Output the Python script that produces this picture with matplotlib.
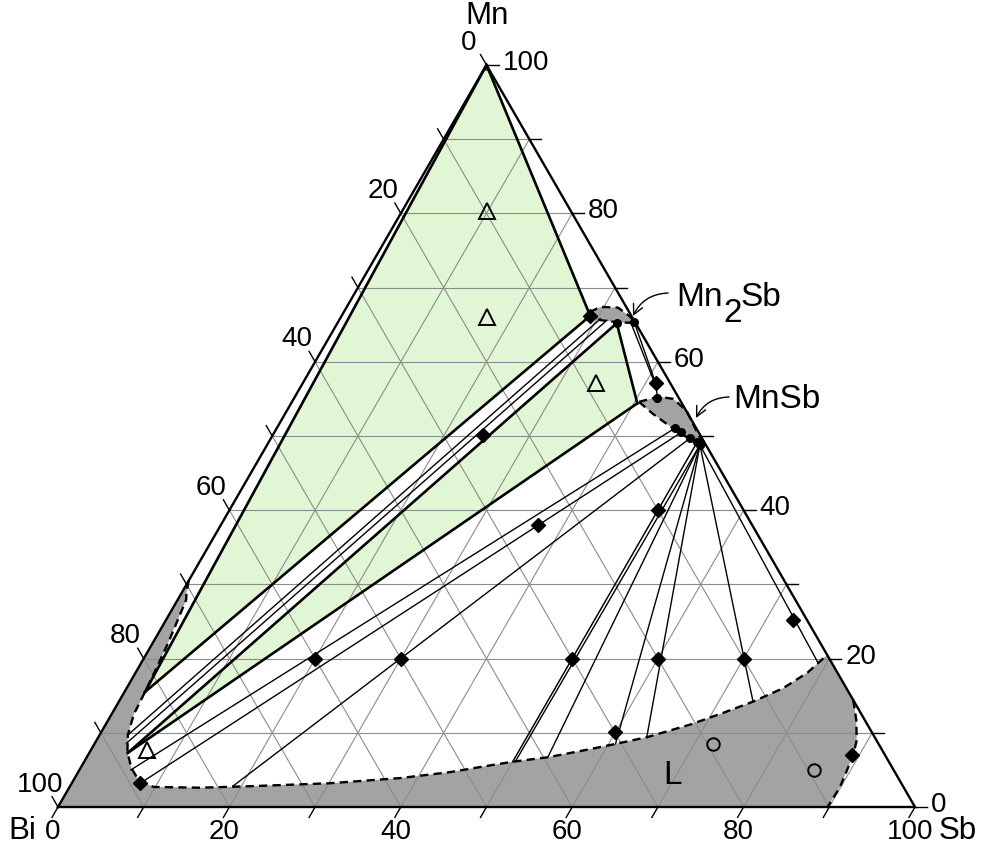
import numpy as np
import matplotlib
matplotlib.use('Agg')
import matplotlib.pyplot as plt
from matplotlib.patches import Polygon, FancyArrowPatch

plt.rcParams['font.family'] = ['Liberation Sans', 'DejaVu Sans']

# ---------------- data: compositions as (Sb %, Mn %), Bi = rest ----------------
tick_values = list(range(0, 101, 10))
label_values = [0, 20, 40, 60, 80, 100]

apex = (0.0, 100.0)
mn2sb_left = (29.0, 66.2)          # Mn2Sb corner (diamond)
mn2sb_mid = (32.6, 65.2)           # Mn2Sb dot
mn2sb_right = (34.6, 65.3)         # Mn2Sb dot on Mn-Sb edge
mnsb_corner = (40.4, 54.4)
liq_a = (2.4, 15.5)
liq_b = (4.5, 7.3)

mn2sb_upper = [(28.7, 66.7), (29.6, 67.4), (31.7, 67.3), (33.7, 66.1), (34.75, 65.25)]
mn2sb_lower = [(28.7, 66.7), (29.35, 65.8), (31.25, 65.5), (32.9, 65.3), (34.75, 65.25)]

mnsb_upper = [(40.5, 54.6), (42.4, 55.3), (44.3, 55.0), (46.65, 53.4), (48.2, 51.7), (50.1, 49.7), (50.9, 49.1)]
mnsb_lower = [(40.5, 54.6), (42.9, 53.0), (46.1, 51.1), (48.9, 49.6), (50.9, 49.1)]

liquidus = [(0, 30.5), (0.5, 29.0), (1.0, 27.9), (1.4, 25.0), (1.8, 22.1), (2.1, 19.0), (2.4, 15.5),
            (2.6, 12.5), (3.3, 9.7), (4.4, 7.4), (5.9, 5.3), (7.6, 3.6), (9.8, 2.7), (15.3, 2.6),
            (21.0, 2.8), (30.1, 3.2), (38.0, 3.9), (43.4, 4.7), (47.1, 5.5), (50.0, 6.1), (53.8, 6.7),
            (58.2, 7.8), (60.8, 8.5), (64.0, 9.4), (68.2, 11.1), (71.3, 12.7), (74.0, 14.2),
            (76.6, 16.0), (78.4, 18.1), (79.0, 19.4), (79.5, 20.5)]
sb_side = [(85.6, 14.4), (87.3, 11.7), (88.7, 9.0), (89.3, 7.0), (89.9, 2.7), (89.8, 0.0)]
mn_tip = [(0, 100), (0, 99.2), (0.8, 99.2)]

thick_lines = [(apex, mn2sb_left), (apex, liq_a), (mn2sb_left, liq_a),
               (mn2sb_mid, liq_b), (mn2sb_mid, mnsb_corner), (mnsb_corner, liq_b)]
thin_lines = [((30.4, 65.8), (3.3, 9.7)), ((31.25, 65.6), (3.7, 8.6)),
              ((34.6, 65.3), (41.2, 57.1)), ((34.1, 65.4), (41.0, 57.2)), ((41.2, 57.1), (42.4, 55.1)),
              ((46.5, 51.1), (6.0, 5.0)), ((47.5, 50.5), (8.0, 3.2)), ((48.9, 49.7), (19.0, 2.8)),
              ((50.0, 49.2), (50.0, 6.1)), ((50.5, 48.8), (50.3, 6.1)), ((50.5, 48.8), (53.8, 6.7)),
              ((50.5, 48.8), (60.8, 8.5)), ((50.5, 48.8), (64.0, 9.4)), ((50.5, 48.8), (74.0, 14.2)),
              ((50.5, 48.8), (79.0, 19.4))]

diamonds = [(29.0, 66.2), (41.2, 57.1), (24.5, 50.1), (37.0, 38.0), (50.0, 40.0), (73.2, 25.2),
            (20.0, 20.0), (30.0, 20.0), (50.0, 20.0), (60.0, 20.0), (70.0, 20.0), (60.0, 10.1),
            (89.1, 7.0), (8.0, 3.2)]
triangles = [(9.9, 80.3), (17.0, 66.0), (34.2, 57.1), (6.5, 7.7)]
circles = [(72.2, 8.5), (85.7, 5.0)]
dots = [(32.6, 65.2), (34.6, 65.3), (42.4, 55.1), (46.5, 51.1), (47.5, 50.5), (48.9, 49.7),
        (50.0, 49.2), (50.5, 48.8)]

# ---------------- geometry ----------------
S3 = np.sqrt(3) / 2
PX = 1 / 8.57  # data units per pixel


def P(sb, mn):
    return sb + mn / 2.0, mn * S3


def PP(pts):
    a = np.array(pts, float)
    return a[:, 0] + a[:, 1] / 2.0, a[:, 1] * S3


def pxd(x, y):
    return (x - 58) * PX, (807 - y) / 8.568


fig = plt.figure(figsize=(9.81, 8.46), dpi=100)
ax = fig.add_axes([0, 0, 1, 1])
ax.set_xlim(-58 * PX, (981 - 58) * PX)
ax.set_ylim((807 - 846) / 8.568, 807 / 8.568)
ax.axis('off')

GREEN = '#e1f6d5'
GRAY = '#a3a3a3'

# fills
for tri in [[apex, mn2sb_left, liq_a], [mn2sb_mid, mnsb_corner, liq_b]]:
    x, y = PP(tri)
    ax.add_patch(Polygon(np.c_[x, y], closed=True, fc=GREEN, ec='none', zorder=1))
gray_poly = [(0, 0), (89.8, 0)] + sb_side[::-1][1:] + liquidus[::-1]
x, y = PP(gray_poly)
ax.add_patch(Polygon(np.c_[x, y], closed=True, fc=GRAY, ec='none', zorder=1))
x, y = PP(mn2sb_upper + mn2sb_lower[::-1])
ax.add_patch(Polygon(np.c_[x, y], closed=True, fc=GRAY, ec='none', zorder=1))
x, y = PP(mnsb_upper + mnsb_lower[::-1])
ax.add_patch(Polygon(np.c_[x, y], closed=True, fc=GRAY, ec='none', zorder=1))
x, y = PP(mn_tip)
ax.add_patch(Polygon(np.c_[x, y], closed=True, fc='#555555', ec='none', zorder=1))

# grid and ticks
TL = 12 * PX
gkw = dict(color='#8c8c8c', lw=0.8, zorder=2)
tkw = dict(color='black', lw=1.0, zorder=2)
for k in tick_values:
    # Mn = k (horizontal)
    xa, ya = P(0, k)
    xb, yb = P(100 - k, k)
    if 0 < k < 100:
        ax.plot([xa, xb], [ya, yb], **gkw)
    ax.plot([xb, xb + TL], [yb, yb], **tkw)
    # Sb = k
    xa, ya = P(k, 0)
    xb, yb = P(k, 100 - k)
    if 0 < k < 100:
        ax.plot([xa, xb], [ya, yb], **gkw)
    ax.plot([xa, xa - 0.5 * TL], [ya, ya - S3 * TL], **tkw)
    # Bi = k
    xa, ya = P(0, 100 - k)
    xb, yb = P(100 - k, 0)
    if 0 < k < 100:
        ax.plot([xa, xb], [ya, yb], **gkw)
    ax.plot([xa, xa - 0.5 * TL], [ya, ya + S3 * TL], **tkw)

FS = 20
for k in label_values:
    xb, yb = P(100 - k, k)
    ax.text(xb + TL + 4 * PX, yb + 2 * PX, str(k), ha='left', va='center', fontsize=FS)
    xa, ya = P(k, 0)
    ax.text(xa - 0.5 * TL + 1 * PX, ya - S3 * TL - 2 * PX, str(k), ha='center', va='top', fontsize=FS)
    xa, ya = P(0, 100 - k)
    ax.text(xa - 0.5 * TL - 12 * PX, ya + S3 * TL + 12 * PX, str(k), ha='center', va='center', fontsize=FS)

# triangle frame
x, y = PP([(0, 0), (100, 0), (0, 100), (0, 0)])
ax.plot(x, y, color='black', lw=1.7, zorder=5, solid_joinstyle='miter')

# phase lines
for a, b in thin_lines:
    x, y = PP([a, b])
    ax.plot(x, y, color='black', lw=1.0, zorder=3)
for a, b in thick_lines:
    x, y = PP([a, b])
    ax.plot(x, y, color='black', lw=1.9, zorder=4)

dkw = dict(color='black', lw=1.7, ls=(0, (3.5, 2.2)), zorder=5)
for curve in [liquidus, sb_side, mn2sb_upper, mn2sb_lower, mnsb_upper, mnsb_lower]:
    x, y = PP(curve)
    ax.plot(x, y, **dkw)

# markers
x, y = PP(dots)
ax.plot(x, y, 'o', ms=5.5, color='black', zorder=6)
x, y = PP(diamonds)
ax.plot(x, y, 'D', ms=7.5, color='black', zorder=7)
x, y = PP(triangles)
ax.plot(x, y, '^', ms=11, mfc='none', mec='black', mew=1.4, zorder=7)
x, y = PP(circles)
ax.plot(x, y, 'o', ms=9, mfc='none', mec='black', mew=1.4, zorder=7)

# labels
EFS = 22.5
ax.text(*pxd(487, 16), 'Mn', ha='center', va='center', fontsize=EFS)
ax.text(*pxd(22, 831), 'Bi', ha='center', va='center', fontsize=EFS)
ax.text(*pxd(958, 831), 'Sb', ha='center', va='center', fontsize=EFS)
ax.text(*pxd(672, 775), 'L', ha='center', va='center', fontsize=24)

AFS = 24
ax.text(*pxd(676, 306), 'Mn', ha='left', va='baseline', fontsize=AFS)
ax.text(*pxd(723, 322), '2', ha='left', va='baseline', fontsize=AFS)
ax.text(*pxd(740, 306), 'Sb', ha='left', va='baseline', fontsize=AFS)
ax.text(*pxd(733, 408), 'MnSb', ha='left', va='baseline', fontsize=AFS)

for a, b in [((668, 293), (633, 316)), ((729, 397), (696, 418))]:
    arr = FancyArrowPatch(pxd(*a), pxd(*b), arrowstyle='->', mutation_scale=18,
                          connectionstyle='arc3,rad=0.3', lw=1.0, color='black',
                          shrinkA=0, shrinkB=0, zorder=8)
    ax.add_patch(arr)

fig.savefig('out.png', dpi=100)
